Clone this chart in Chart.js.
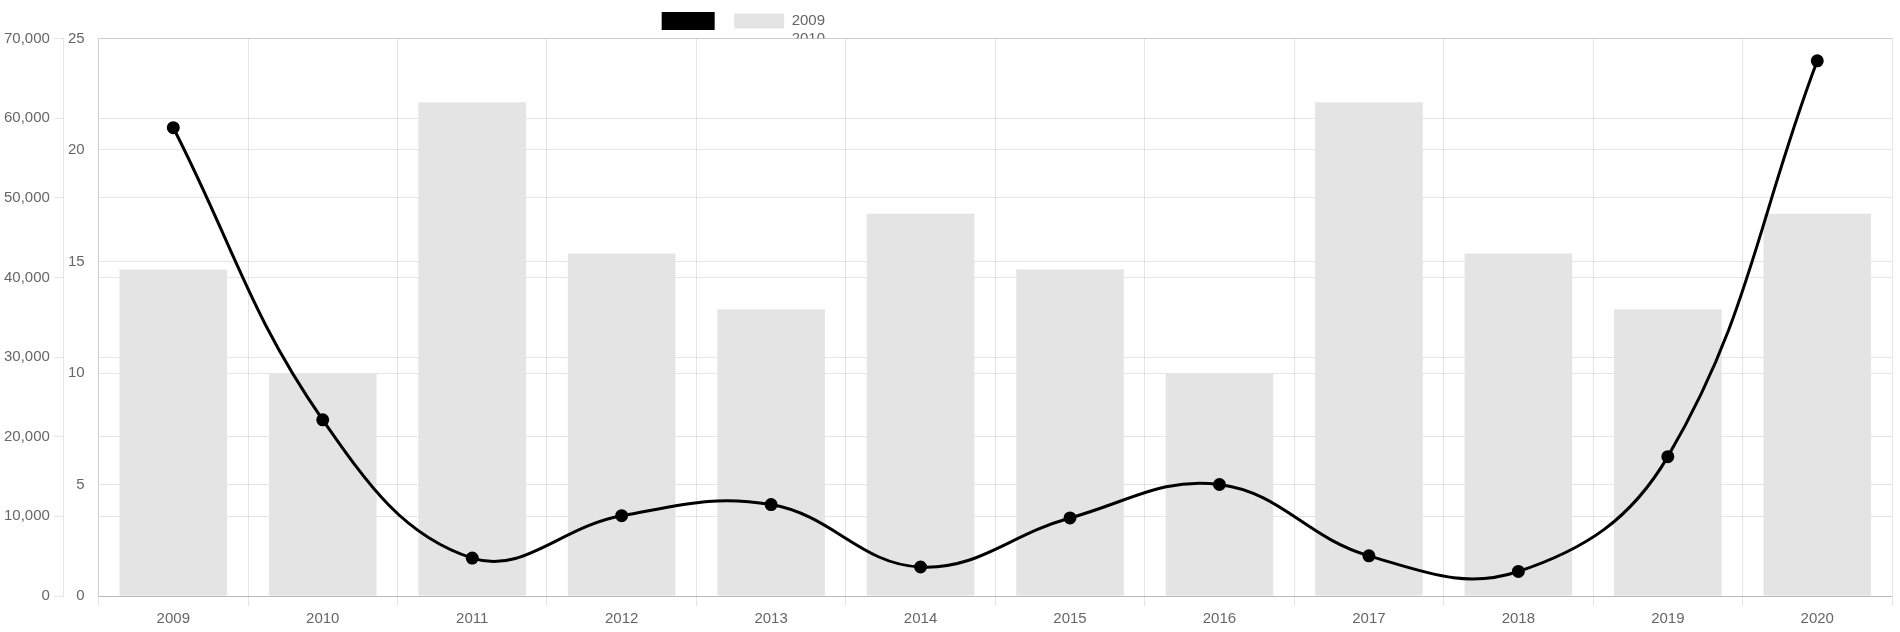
<!DOCTYPE html>
<html>
<head>
<meta charset="utf-8">
<script src="https://cdn.jsdelivr.net/npm/chart.js@4.4.1/dist/chart.umd.min.js"></script>
<style>
  html, body { margin: 0; padding: 0; background: #fff; }
  #wrap { width: 1900px; height: 632px; position: relative; }
</style>
</head>
<body>
<div id="wrap"><canvas id="chart"></canvas></div>
<script>
// 카테고리 (연도)
const years = ["2009", "2010", "2011", "2012", "2013", "2014", "2015", "2016", "2017", "2018", "2019", "2020"];

// 막대 값 (왼쪽 바깥 축, 0 ~ 70,000)
const barValues = [41000, 28000, 62000, 43000, 36000, 48000, 41000, 28000, 62000, 43000, 36000, 48000];

// 선 값 (안쪽 축, 0 ~ 25)
const lineValues = [21, 7.9, 1.7, 3.6, 4.1, 1.3, 3.5, 5, 1.8, 1.1, 6.25, 24];

// 축 범위
const barAxisMax = 70000;
const barAxisStep = 10000;
const lineAxisMax = 25;
const lineAxisStep = 5;

Chart.defaults.font.size = 15;
Chart.defaults.color = "#666";

const ctx = document.getElementById("chart").getContext("2d");
new Chart(ctx, {
  type: "bar",
  data: {
    labels: years,
    datasets: [
      {
        type: "line",
        label: "",
        data: lineValues,
        yAxisID: "y1",
        borderColor: "#000",
        backgroundColor: "#000",
        borderWidth: 3,
        pointRadius: 5,
        pointBackgroundColor: "#000",
        tension: 0.4,
        fill: false
      },
      {
        type: "bar",
        label: years,
        data: barValues,
        yAxisID: "y",
        backgroundColor: "#e4e4e4"
      }
    ]
  },
  options: {
    responsive: true,
    maintainAspectRatio: false,
    animation: false,
    plugins: {
      legend: {
        position: "top",
        labels: { boxWidth: 50, boxHeight: 15, padding: 13.5 }
      },
      tooltip: { enabled: false }
    },
    scales: {
      y1: {
        position: "left",
        min: 0,
        max: lineAxisMax,
        ticks: { stepSize: lineAxisStep, padding: 4 },
        grid: { tickLength: 10, tickColor: "transparent" }
      },
      y: {
        position: "left",
        min: 0,
        max: barAxisMax,
        ticks: { stepSize: barAxisStep, padding: 4 },
        grid: { tickLength: 10 }
      },
      x: {
        ticks: { padding: 4 },
        grid: { tickLength: 10 }
      }
    }
  }
});
</script>
</body>
</html>
